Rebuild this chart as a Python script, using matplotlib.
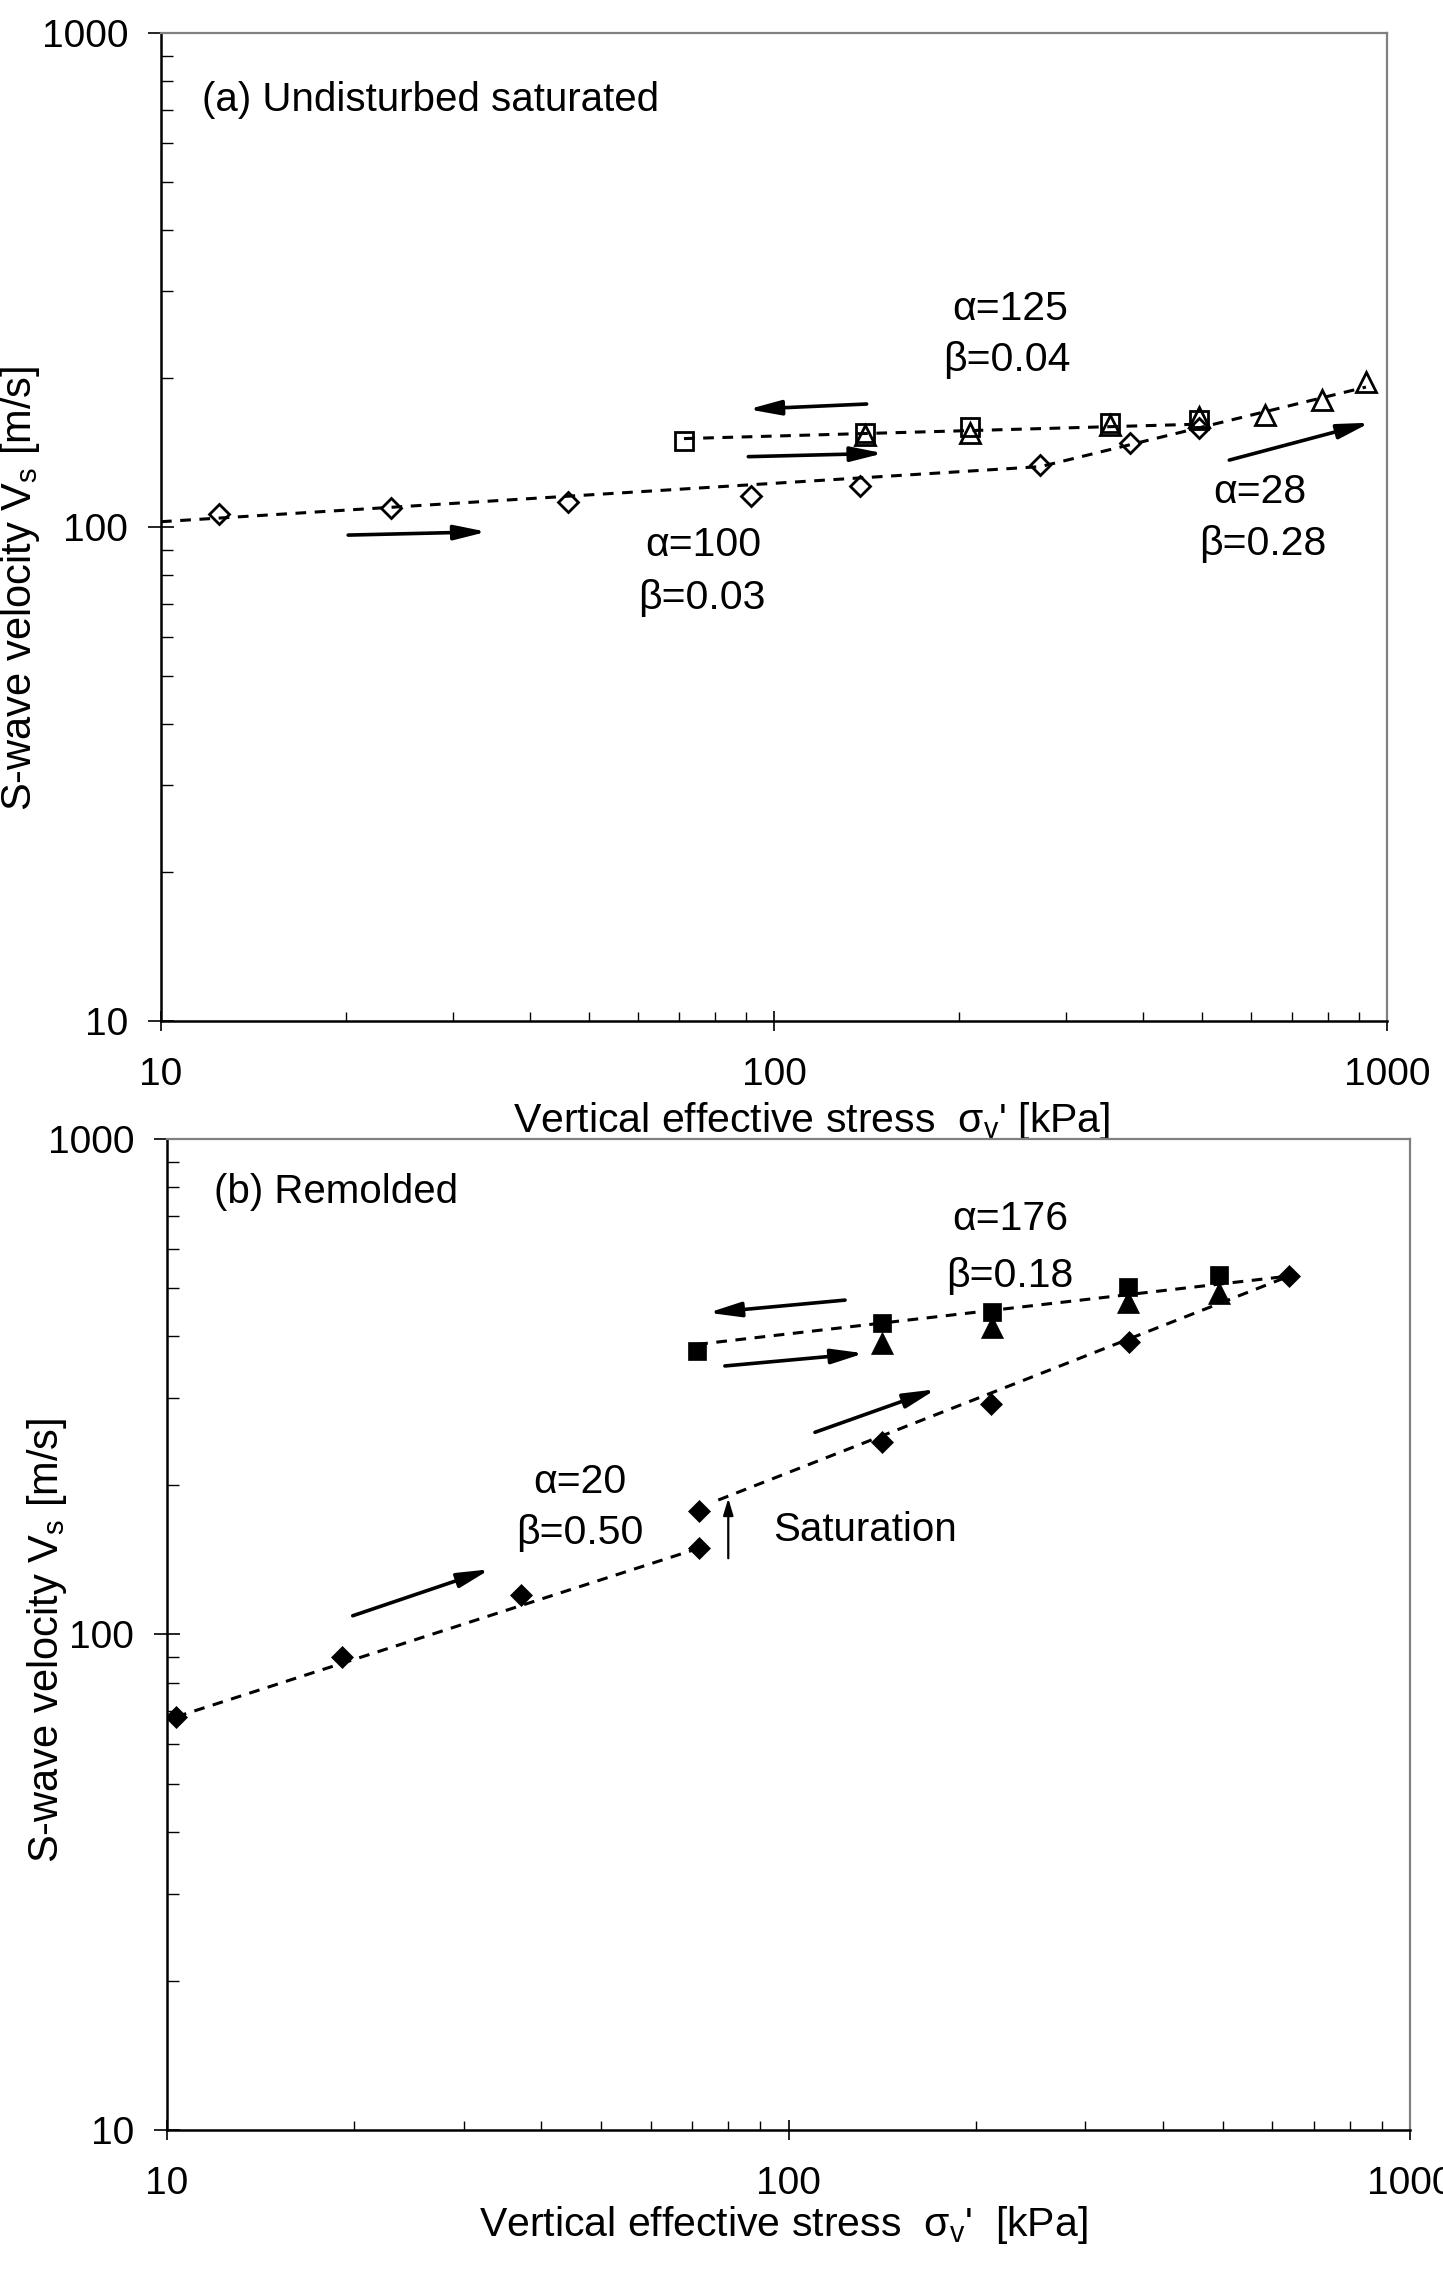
import matplotlib
matplotlib.use("Agg")
import matplotlib.pyplot as plt
from matplotlib.ticker import LogLocator, NullFormatter, FuncFormatter

plt.rcParams['font.family'] = ['Liberation Sans', 'DejaVu Sans']
plt.rcParams['mathtext.fontset'] = 'custom'
plt.rcParams['mathtext.rm'] = 'Liberation Sans'
plt.rcParams['mathtext.it'] = 'Liberation Sans:italic'
plt.rcParams['mathtext.sf'] = 'Liberation Sans'

# ---------------- data: panel (a) undisturbed saturated ----------------
a_diam_x = [12.45, 23.75, 46.2, 91.6, 138, 272, 381, 494]
a_diam_v = [106.2, 109.1, 112.4, 115.5, 121.1, 133.5, 147.7, 158.5]
a_sq_x = [71.3, 141, 209, 353, 494]
a_sq_v = [149, 155, 159.6, 162.6, 164.7]
a_tri_x = [141, 209, 353, 494, 632, 782, 924]
a_tri_v = [153.5, 155, 160.5, 167, 168.6, 181, 196.8]
a_fit_load_x = [10, 272, 924]
a_fit_load_v = [102.5, 132.5, 192]
a_fit_unload_x = [71.3, 494]
a_fit_unload_v = [151, 161.5]
a_arrow_start = [(20.2, 96.3), (141.6, 177.4), (90.8, 138.8), (553, 136.6)]
a_arrow_end = [(34.0, 97.8), (90.8, 173.1), (150.8, 141.0), (938, 162.6)]
a_labels = ["α=125", "β=0.04", "α=100", "β=0.03", "α=28", "β=0.28"]

# ---------------- data: panel (b) remolded ----------------
b_diam_x = [10.34, 19.1, 37.1, 71.7, 71.7, 141.6, 212, 352.5, 639.4]
b_diam_v = [68.2, 89.9, 120.2, 149.3, 177.8, 245, 291.9, 390, 529]
b_sq_x = [71.3, 141.3, 212.3, 352.2, 493.5]
b_sq_v = [374, 425.9, 448, 502, 531.6]
b_tri_x = [141.3, 212.3, 352.2, 493.5]
b_tri_v = [387, 418, 469.6, 489.6]
b_fit_dry_x = [10.34, 71.7]
b_fit_dry_v = [68.2, 149.3]
b_fit_sat_x = [77.1, 639.4]
b_fit_sat_v = [186.8, 529]
b_fit_unload_x = [71.3, 639.4]
b_fit_unload_v = [385, 529]
b_arrow_start = [(19.9, 109.1), (123.3, 473), (79.0, 348.3), (110.3, 255.9)]
b_arrow_end = [(33.1, 135.4), (74.3, 446), (132.3, 369.4), (172.7, 312.5)]
b_sat_arrow_start = (80.0, 142.5)
b_sat_arrow_end = (80.0, 188.3)
b_labels = ["α=176", "β=0.18", "α=20", "β=0.50", "Saturation"]

W, H = 1443, 2296
fig = plt.figure(figsize=(W / 100, H / 100), dpi=100)

ax1 = fig.add_axes([161 / W, 1 - 1021 / H, 1226 / W, 988 / H])
ax2 = fig.add_axes([167 / W, 1 - 2130 / H, 1243 / W, 991 / H])

line_kw = dict(color='black', lw=2.2, dashes=(3.5, 2.8), zorder=2)
arrow_kw = dict(arrowstyle='-|>,head_length=0.97,head_width=0.22',
                mutation_scale=20, color='black', lw=2.6,
                shrinkA=0, shrinkB=0)


def style_axes(ax, xlabel):
    ax.set_xscale('log')
    ax.set_yscale('log')
    ax.set_xlim(10, 1000)
    ax.set_ylim(10, 1000)
    fmt = FuncFormatter(lambda v, p: f"{v:g}")
    ax.xaxis.set_major_locator(LogLocator(base=10))
    ax.yaxis.set_major_locator(LogLocator(base=10))
    ax.xaxis.set_minor_locator(LogLocator(base=10, subs=range(2, 10)))
    ax.yaxis.set_minor_locator(LogLocator(base=10, subs=range(2, 10)))
    ax.xaxis.set_major_formatter(fmt)
    ax.yaxis.set_major_formatter(fmt)
    ax.xaxis.set_minor_formatter(NullFormatter())
    ax.yaxis.set_minor_formatter(NullFormatter())
    ax.tick_params(axis='x', which='major', direction='inout', length=14,
                   width=1.2, labelsize=28, pad=19)
    ax.tick_params(axis='x', which='minor', direction='in', length=6.5,
                   width=1.0)
    ax.tick_params(axis='y', which='major', direction='inout', length=19,
                   width=1.2, labelsize=28, pad=14)
    ax.tick_params(axis='y', which='minor', direction='in', length=8.6,
                   width=1.0)
    for s in ('top', 'right'):
        ax.spines[s].set_color('#808080')
        ax.spines[s].set_linewidth(1.6)
    for s in ('left', 'bottom'):
        ax.spines[s].set_color('black')
        ax.spines[s].set_linewidth(1.8)
    ax.set_ylabel(r"S-wave velocity V$_{\rm s}$ [m/s]", fontsize=30)
    ax.set_xlabel(xlabel, fontsize=29.5)


# ---------------- panel (a) ----------------
style_axes(ax1, r"Vertical effective stress  σ$_{\rm v}$' [kPa]")
ax1.plot(a_fit_load_x, a_fit_load_v, **line_kw)
ax1.plot(a_fit_unload_x, a_fit_unload_v, **line_kw)
ax1.plot(a_diam_x, a_diam_v, ls='none', marker='D', ms=10.3, mew=2.0,
         mec='black', mfc='none', zorder=3)
ax1.plot(a_sq_x, a_sq_v, ls='none', marker='s', ms=12.5, mew=2.0,
         mec='black', mfc='none', zorder=3)
ax1.plot(a_tri_x, a_tri_v, ls='none', marker='^', ms=15, mew=2.0,
         mec='black', mfc='none', zorder=3)
for s, e in zip(a_arrow_start, a_arrow_end):
    ax1.annotate('', xy=e, xytext=s, arrowprops=arrow_kw)

ax1.text(0.0334, 0.932, "(a) Undisturbed saturated", transform=ax1.transAxes,
         fontsize=29, ha='left', va='center')
a_pos = [(0.6925, 0.7206), (0.690, 0.669), (0.442, 0.4818), (0.4409, 0.4278),
         (0.8964, 0.5357), (0.899, 0.4828)]
for t, (x, y) in zip(a_labels, a_pos):
    ax1.text(x, y, t, transform=ax1.transAxes, fontsize=29.5,
             ha='center', va='center')
ax1.yaxis.set_label_coords(-0.097, 0.438)
ax1.xaxis.set_label_coords(0.531, -0.080)

# ---------------- panel (b) ----------------
style_axes(ax2, r"Vertical effective stress  σ$_{\rm v}$'  [kPa]")
ax2.plot(b_fit_dry_x, b_fit_dry_v, **line_kw)
ax2.plot(b_fit_sat_x, b_fit_sat_v, **line_kw)
ax2.plot(b_fit_unload_x, b_fit_unload_v, **line_kw)
ax2.plot(b_diam_x, b_diam_v, ls='none', marker='D', ms=11, mew=0.5,
         mec='black', mfc='black', zorder=3)
ax2.plot(b_sq_x, b_sq_v, ls='none', marker='s', ms=13, mew=0.5,
         mec='black', mfc='black', zorder=3)
ax2.plot(b_tri_x, b_tri_v, ls='none', marker='^', ms=16, mew=0.5,
         mec='black', mfc='black', zorder=3)
for s, e in zip(b_arrow_start, b_arrow_end):
    ax2.annotate('', xy=e, xytext=s, arrowprops=arrow_kw)
ax2.annotate('', xy=b_sat_arrow_end, xytext=b_sat_arrow_start,
             arrowprops=dict(arrowstyle='-|>,head_length=0.5,head_width=0.15',
                             mutation_scale=20, color='black', lw=1.6,
                             shrinkA=0, shrinkB=0))

ax2.text(0.0378, 0.9468, "(b) Remolded", transform=ax2.transAxes,
         fontsize=29, ha='left', va='center')
b_pos = [(0.678, 0.919), (0.678, 0.862), (0.332, 0.654), (0.332, 0.602)]
for t, (x, y) in zip(b_labels[:4], b_pos):
    ax2.text(x, y, t, transform=ax2.transAxes, fontsize=29.5,
             ha='center', va='center')
ax2.text(0.4873, 0.6054, b_labels[4], transform=ax2.transAxes, fontsize=29,
         ha='left', va='center')
ax2.yaxis.set_label_coords(-0.079, 0.494)
ax2.xaxis.set_label_coords(0.496, -0.075)

fig.savefig("out.png", dpi=100)
